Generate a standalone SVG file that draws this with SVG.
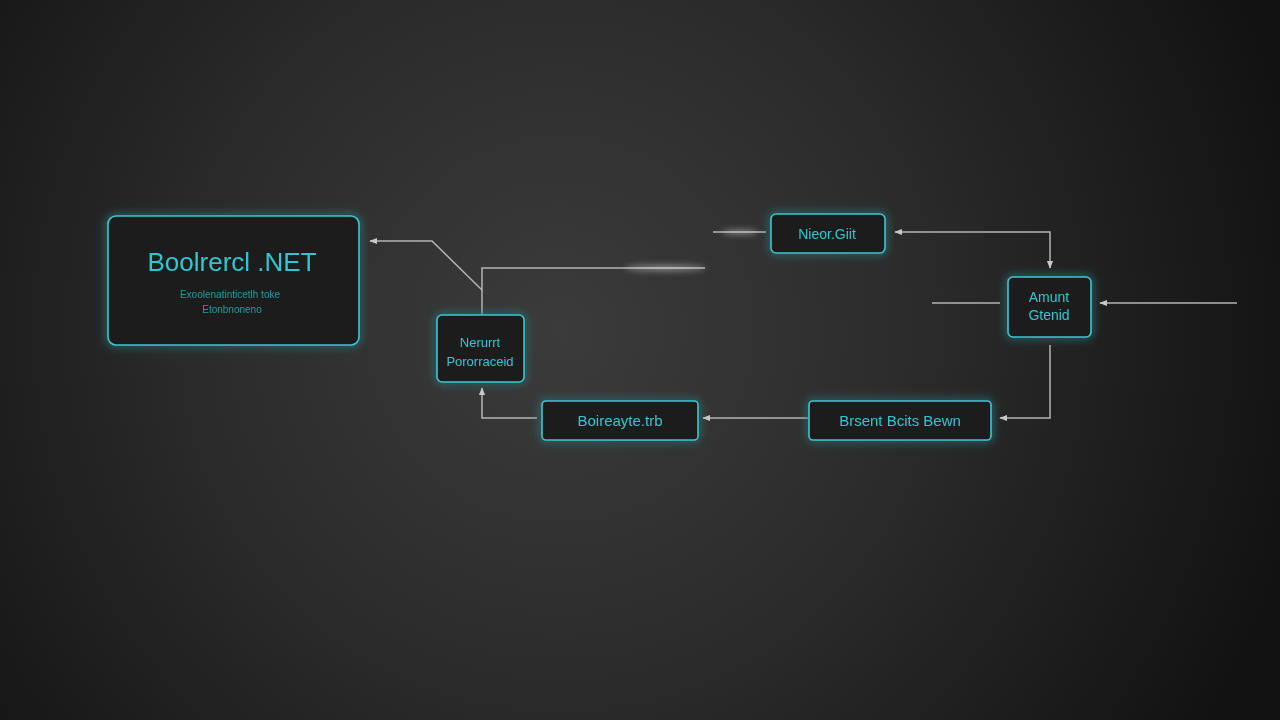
<svg xmlns="http://www.w3.org/2000/svg" width="1280" height="720" viewBox="0 0 1280 720">
<defs>
<radialGradient id="bg" cx="560" cy="330" r="760" gradientUnits="userSpaceOnUse">
<stop offset="0" stop-color="#3b3b3b"/>
<stop offset="0.45" stop-color="#2c2c2c"/>
<stop offset="1" stop-color="#121212"/>
</radialGradient>
<filter id="glow" x="-40%" y="-40%" width="180%" height="180%">
<feGaussianBlur in="SourceGraphic" stdDeviation="5" result="b"/>
<feMerge><feMergeNode in="b"/><feMergeNode in="SourceGraphic"/></feMerge>
</filter>
<filter id="soft" x="-50%" y="-300%" width="200%" height="700%">
<feGaussianBlur stdDeviation="3"/>
</filter>
<marker id="arr" viewBox="0 0 10 10" refX="9" refY="5" markerWidth="8" markerHeight="8" orient="auto-start-reverse" markerUnits="userSpaceOnUse">
<path d="M0,1 L10,5 L0,9 z" fill="#c8c8c8"/>
</marker>
<style>
.box{fill:#1d1e1f;stroke:#3cc5cf;stroke-width:1.6}
.t{font-family:"Liberation Sans",Arial,sans-serif;fill:#2fc6d0;text-anchor:middle}
.sub{font-family:"Liberation Sans",Arial,sans-serif;fill:#1c9c9e;text-anchor:middle;font-size:10px}
.c{fill:none;stroke:#b4b4b4;stroke-width:1.5}
</style>
</defs>
<rect width="1280" height="720" fill="url(#bg)"/>

<g id="connectors">
<path class="c" d="M482,290 L432,241 L370,241" marker-end="url(#arr)"/>
<path class="c" d="M482,315 L482,268 L705,268"/>
<ellipse cx="665" cy="268" rx="40" ry="2.5" fill="#ffffff" opacity="0.5" filter="url(#soft)"/>
<path class="c" d="M713,232 L766,232"/>
<ellipse cx="740" cy="232" rx="18" ry="2" fill="#ffffff" opacity="0.5" filter="url(#soft)"/>
<path class="c" d="M1050,268 L1050,232 L895,232" marker-start="url(#arr)" marker-end="url(#arr)"/>
<path class="c" d="M932,303 L1000,303"/>
<path class="c" d="M1237,303 L1100,303" marker-end="url(#arr)"/>
<path class="c" d="M1050,345 L1050,418 L1000,418" marker-end="url(#arr)"/>
<path class="c" d="M808,418 L703,418" marker-end="url(#arr)"/>
<path class="c" d="M537,418 L482,418 L482,388" marker-end="url(#arr)"/>
</g>

<g id="node-main" filter="url(#glow)">
<rect class="box" x="108" y="216" width="251" height="129" rx="8"/>
<text class="t" x="232" y="271" font-size="26">Boolrercl .NET</text>
<text class="sub" x="230" y="298">Exoolenatinticetlh toke</text>
<text class="sub" x="232" y="313">Etonbnoneno</text>
</g>

<g id="node-nerurrt" filter="url(#glow)">
<rect class="box" x="437" y="315" width="87" height="67" rx="5"/>
<text class="t" x="480" y="347" font-size="13">Nerurrt</text>
<text class="t" x="480" y="366" font-size="13">Pororraceid</text>
</g>

<g id="node-nieor" filter="url(#glow)">
<rect class="box" x="771" y="214" width="114" height="39" rx="5"/>
<text class="t" x="827" y="239" font-size="14">Nieor.Giit</text>
</g>

<g id="node-amunt" filter="url(#glow)">
<rect class="box" x="1008" y="277" width="83" height="60" rx="5"/>
<text class="t" x="1049" y="302" font-size="14">Amunt</text>
<text class="t" x="1049" y="320" font-size="14">Gtenid</text>
</g>

<g id="node-boireayte" filter="url(#glow)">
<rect class="box" x="542" y="401" width="156" height="39" rx="4"/>
<text class="t" x="620" y="426" font-size="15">Boireayte.trb</text>
</g>

<g id="node-brsent" filter="url(#glow)">
<rect class="box" x="809" y="401" width="182" height="39" rx="4"/>
<text class="t" x="900" y="426" font-size="15">Brsent Bcits Bewn</text>
</g>
</svg>
